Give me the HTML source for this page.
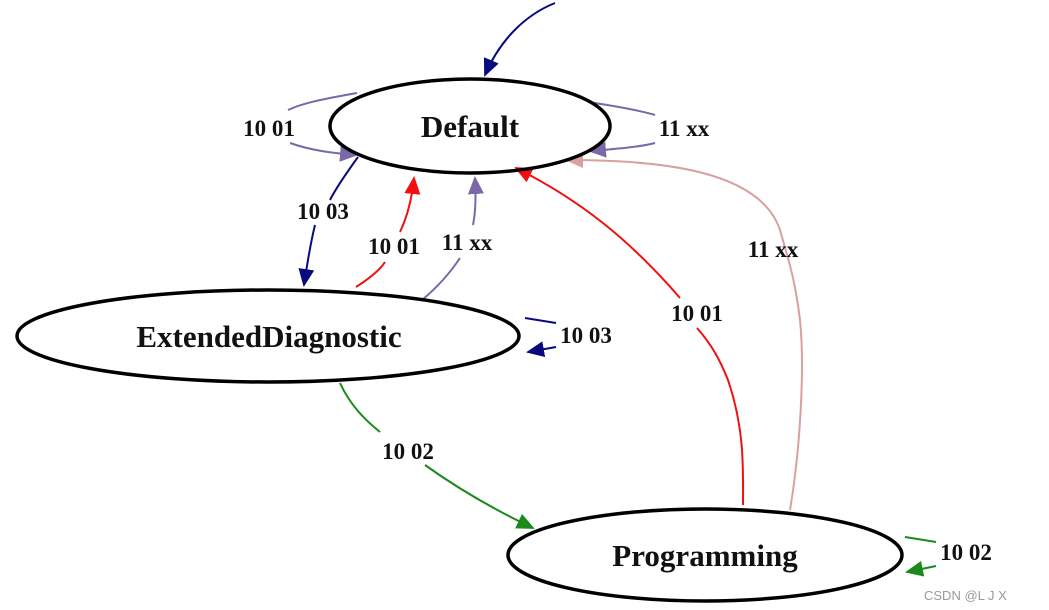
<!DOCTYPE html>
<html><head><meta charset="utf-8"><style>
html,body{margin:0;padding:0;background:#fff;width:1049px;height:610px;overflow:hidden}
svg{display:block}
text{font-family:"Liberation Serif",serif;font-weight:bold;fill:#111}
</style></head><body>
<svg width="1049" height="610" viewBox="0 0 1049 610" xmlns="http://www.w3.org/2000/svg">
<defs>
<marker id="an" markerWidth="18" markerHeight="16" refX="16" refY="8" orient="auto" markerUnits="userSpaceOnUse" viewBox="0 0 18 16"><path d="M0,0 L18,8 L0,16 Z" fill="#0a0a80"/></marker>
<marker id="ap" markerWidth="18" markerHeight="16" refX="16" refY="8" orient="auto" markerUnits="userSpaceOnUse" viewBox="0 0 18 16"><path d="M0,0 L18,8 L0,16 Z" fill="#7a68a8"/></marker>
<marker id="ar" markerWidth="18" markerHeight="16" refX="16" refY="8" orient="auto" markerUnits="userSpaceOnUse" viewBox="0 0 18 16"><path d="M0,0 L18,8 L0,16 Z" fill="#f01010"/></marker>
<marker id="ak" markerWidth="18" markerHeight="16" refX="16" refY="8" orient="auto" markerUnits="userSpaceOnUse" viewBox="0 0 18 16"><path d="M0,0 L18,8 L0,16 Z" fill="#d8a0a0"/></marker>
<marker id="ag" markerWidth="18" markerHeight="16" refX="16" refY="8" orient="auto" markerUnits="userSpaceOnUse" viewBox="0 0 18 16"><path d="M0,0 L18,8 L0,16 Z" fill="#1a8a1a"/></marker>
</defs>
<g fill="none" stroke-width="2">
<path d="M555,3 C525,15 500,40 485,75" stroke="#0a0a80" marker-end="url(#an)"/>
<path d="M357,93 C330,98 305,102 288,110" stroke="#7a68a8"/>
<path d="M290,143 C310,150 330,153 356,155" stroke="#7a68a8" marker-end="url(#ap)"/>
<path d="M588,102 C615,106 638,110 655,115" stroke="#7a68a8"/>
<path d="M655,143 C640,147 615,149 590,151" stroke="#7a68a8" marker-end="url(#ap)"/>
<path d="M358,157 C345,175 335,190 330,200" stroke="#0a0a80"/>
<path d="M315,225 C310,245 307,265 304,285" stroke="#0a0a80" marker-end="url(#an)"/>
<path d="M356,287 C370,278 380,270 385,262" stroke="#f01010"/>
<path d="M400,232 C408,215 412,198 414,178" stroke="#f01010" marker-end="url(#ar)"/>
<path d="M422,300 C440,285 452,270 460,258" stroke="#7a68a8"/>
<path d="M473,225 C476,210 476,195 475,178" stroke="#7a68a8" marker-end="url(#ap)"/>
<path d="M525,318 L556,323" stroke="#0a0a80"/>
<path d="M556,347 L528,352" stroke="#0a0a80" marker-end="url(#an)"/>
<path d="M340,383 C350,405 365,420 380,432" stroke="#1a8a1a"/>
<path d="M425,465 C460,490 495,510 533,528" stroke="#1a8a1a" marker-end="url(#ag)"/>
<path d="M743,505 C743,470 745,430 728,380 C720,360 712,345 697,328" stroke="#f01010"/>
<path d="M680,298 C630,240 580,200 516,168" stroke="#f01010" marker-end="url(#ar)"/>
<path d="M790,510 C800,450 805,370 800,320 C795,280 790,265 780,230 C760,170 660,160 567,160" stroke="#d8a0a0" marker-end="url(#ak)"/>
<path d="M905,537 L936,542" stroke="#1a8a1a"/>
<path d="M936,566 L907,572" stroke="#1a8a1a" marker-end="url(#ag)"/>
</g>
<g fill="none" stroke="#000" stroke-width="3.5">
<ellipse cx="470" cy="126" rx="140" ry="47"/>
<ellipse cx="268" cy="336" rx="251" ry="46"/>
<ellipse cx="705" cy="555" rx="197" ry="46"/>
</g>
<text x="470" y="137" font-size="31" text-anchor="middle">Default</text>
<text x="269" y="347" font-size="31" text-anchor="middle">ExtendedDiagnostic</text>
<text x="705" y="566" font-size="31" text-anchor="middle">Programming</text>
<g font-size="23" text-anchor="middle">
<text x="269" y="136">10 01</text>
<text x="684" y="136">11 xx</text>
<text x="323" y="219">10 03</text>
<text x="394" y="254">10 01</text>
<text x="467" y="250">11 xx</text>
<text x="586" y="343">10 03</text>
<text x="408" y="459">10 02</text>
<text x="697" y="321">10 01</text>
<text x="773" y="257">11 xx</text>
<text x="966" y="560">10 02</text>
</g>
<text x="924" y="600" font-size="13" style="font-family:'Liberation Sans',sans-serif;font-weight:normal;fill:#999">CSDN @L  J  X</text>
</svg>
</body></html>
